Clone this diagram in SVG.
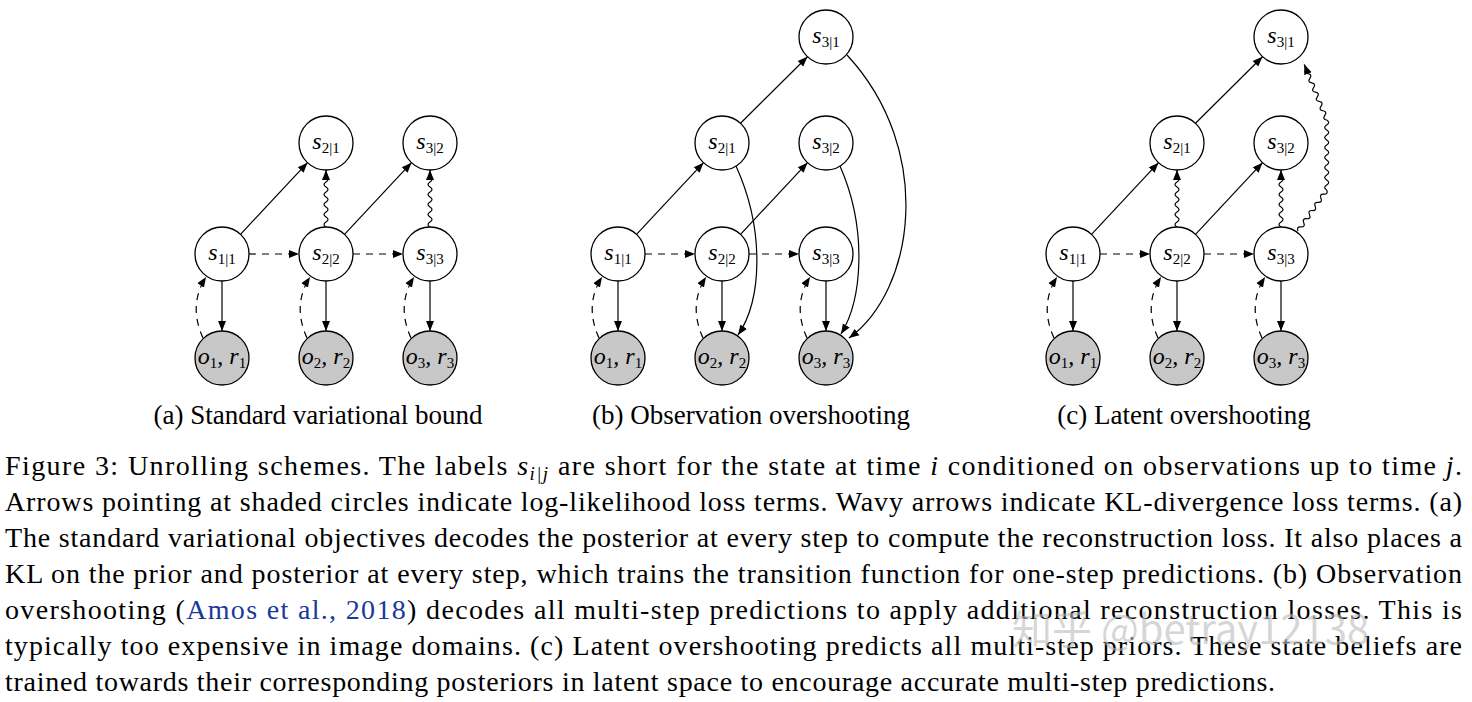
<svg xmlns="http://www.w3.org/2000/svg" width="1472" height="702" viewBox="0 0 1472 702">
<style>
.n{fill:#fff;stroke:#000;stroke-width:1.3}
.o{fill:#c8c8c8;stroke:#000;stroke-width:1.3}
.l{font-family:"Liberation Serif",serif;font-style:italic;font-size:24px;text-anchor:middle}
.sb{font-size:15px;font-style:normal}
.e{fill:none;stroke:#000;stroke-width:1.2;marker-end:url(#ah)}
.d{stroke-dasharray:7 6}
.cap{font-family:"Liberation Serif",serif;font-size:28px}
.sc{font-family:"Liberation Serif",serif;font-size:27px;text-anchor:middle}
</style>
<defs>
<marker id="ah" viewBox="0 0 10 10" refX="10" refY="5" markerWidth="10" markerHeight="10" markerUnits="userSpaceOnUse" orient="auto"><path d="M0,1 L10,5 L0,9 z"/></marker>
<g id="col">
<path class="e" d="M0,281 V331"/>
<path class="e d" d="M-19,338 Q-34,305 -16,277"/>
</g>
<path id="wv" class="e" d="M0,227 q-4,-2.5 0,-5 t0,-5 t0,-5 t0,-5 t0,-5 t0,-5 t0,-5 t0,-5 t0,-5 t0,-5 l0,-7"/>
</defs>
<rect width="1472" height="702" fill="#fff"/>
<g id="connectors">
<use href="#col" x="222"/><use href="#col" x="326"/><use href="#col" x="430"/>
<path class="e d" d="M249,254 H299"/><path class="e d" d="M353,254 H403"/>
<path class="e" d="M240.5,234.3 L307.5,162.7"/><path class="e" d="M344.5,234.3 L411.5,162.7"/>
<use href="#wv" x="326"/><use href="#wv" x="430"/>
<use href="#col" x="618"/><use href="#col" x="722"/><use href="#col" x="826"/>
<path class="e d" d="M645,254 H695"/><path class="e d" d="M749,254 H799"/>
<path class="e" d="M636.5,234.3 L703.5,162.7"/><path class="e" d="M740.5,234.3 L807.5,162.7"/>
<path class="e" d="M740.5,123.3 L807.5,56.7"/>
<path class="e" d="M736,166 C765,230 762,300 738,335"/>
<path class="e" d="M840,166 C868,230 862,300 841,334"/>
<path class="e" d="M847,55 C935,150 915,290 849,338"/>
<use href="#col" x="1073"/><use href="#col" x="1177"/><use href="#col" x="1281"/>
<path class="e d" d="M1100,254 H1150"/><path class="e d" d="M1204,254 H1254"/>
<path class="e" d="M1091.5,234.3 L1158.5,162.7"/><path class="e" d="M1195.5,234.3 L1262.5,162.7"/>
<path class="e" d="M1195.5,123.3 L1262.5,56.7"/>
<use href="#wv" x="1177"/><use href="#wv" x="1281"/>
<path fill="none" stroke="#000" stroke-width="1.2" transform="translate(1298,231) rotate(-55)" d="M0,0 q2.5,-4 5,0 t5,0 t5,0 t5,0 t5,0 t5,0 t5,0 t5,0 t5,0 t5,0"/>
<path fill="none" stroke="#000" stroke-width="1.2" transform="translate(1326.7,190) rotate(-90)" d="M0,0 q2.5,-4 5,0 t5,0 t5,0 t5,0 t5,0 t5,0 t5,0 t5,0 t5,0 t5,0 t5,0 t5,0 t5,0 t5,0"/>
<path class="e" transform="translate(1326.7,120) rotate(-112)" d="M0,0 q2.5,-4 5,0 t5,0 t5,0 t5,0 t5,0 t5,0 t5,0 t5,0 t5,0 t5,0 t5,0 l5,0"/>
</g>
<g id="a_s21"><circle class="n" cx="326" cy="143" r="27"/><text class="l" x="326" y="149">s<tspan class="sb" dy="4">2|1</tspan></text></g>
<g id="a_s32"><circle class="n" cx="430" cy="143" r="27"/><text class="l" x="430" y="149">s<tspan class="sb" dy="4">3|2</tspan></text></g>
<g id="a_s11"><circle class="n" cx="222" cy="254" r="27"/><text class="l" x="222" y="260">s<tspan class="sb" dy="4">1|1</tspan></text></g>
<g id="a_s22"><circle class="n" cx="326" cy="254" r="27"/><text class="l" x="326" y="260">s<tspan class="sb" dy="4">2|2</tspan></text></g>
<g id="a_s33"><circle class="n" cx="430" cy="254" r="27"/><text class="l" x="430" y="260">s<tspan class="sb" dy="4">3|3</tspan></text></g>
<g id="a_o1"><circle class="o" cx="222" cy="358" r="27"/><text class="l" x="222" y="364">o<tspan class="sb" dy="4">1</tspan><tspan dy="-4">, r</tspan><tspan class="sb" dy="4">1</tspan></text></g>
<g id="a_o2"><circle class="o" cx="326" cy="358" r="27"/><text class="l" x="326" y="364">o<tspan class="sb" dy="4">2</tspan><tspan dy="-4">, r</tspan><tspan class="sb" dy="4">2</tspan></text></g>
<g id="a_o3"><circle class="o" cx="430" cy="358" r="27"/><text class="l" x="430" y="364">o<tspan class="sb" dy="4">3</tspan><tspan dy="-4">, r</tspan><tspan class="sb" dy="4">3</tspan></text></g>
<g id="b_s31"><circle class="n" cx="826" cy="37" r="27"/><text class="l" x="826" y="43">s<tspan class="sb" dy="4">3|1</tspan></text></g>
<g id="b_s21"><circle class="n" cx="722" cy="143" r="27"/><text class="l" x="722" y="149">s<tspan class="sb" dy="4">2|1</tspan></text></g>
<g id="b_s32"><circle class="n" cx="826" cy="143" r="27"/><text class="l" x="826" y="149">s<tspan class="sb" dy="4">3|2</tspan></text></g>
<g id="b_s11"><circle class="n" cx="618" cy="254" r="27"/><text class="l" x="618" y="260">s<tspan class="sb" dy="4">1|1</tspan></text></g>
<g id="b_s22"><circle class="n" cx="722" cy="254" r="27"/><text class="l" x="722" y="260">s<tspan class="sb" dy="4">2|2</tspan></text></g>
<g id="b_s33"><circle class="n" cx="826" cy="254" r="27"/><text class="l" x="826" y="260">s<tspan class="sb" dy="4">3|3</tspan></text></g>
<g id="b_o1"><circle class="o" cx="618" cy="358" r="27"/><text class="l" x="618" y="364">o<tspan class="sb" dy="4">1</tspan><tspan dy="-4">, r</tspan><tspan class="sb" dy="4">1</tspan></text></g>
<g id="b_o2"><circle class="o" cx="722" cy="358" r="27"/><text class="l" x="722" y="364">o<tspan class="sb" dy="4">2</tspan><tspan dy="-4">, r</tspan><tspan class="sb" dy="4">2</tspan></text></g>
<g id="b_o3"><circle class="o" cx="826" cy="358" r="27"/><text class="l" x="826" y="364">o<tspan class="sb" dy="4">3</tspan><tspan dy="-4">, r</tspan><tspan class="sb" dy="4">3</tspan></text></g>
<g id="c_s31"><circle class="n" cx="1281" cy="37" r="27"/><text class="l" x="1281" y="43">s<tspan class="sb" dy="4">3|1</tspan></text></g>
<g id="c_s21"><circle class="n" cx="1177" cy="143" r="27"/><text class="l" x="1177" y="149">s<tspan class="sb" dy="4">2|1</tspan></text></g>
<g id="c_s32"><circle class="n" cx="1281" cy="143" r="27"/><text class="l" x="1281" y="149">s<tspan class="sb" dy="4">3|2</tspan></text></g>
<g id="c_s11"><circle class="n" cx="1073" cy="254" r="27"/><text class="l" x="1073" y="260">s<tspan class="sb" dy="4">1|1</tspan></text></g>
<g id="c_s22"><circle class="n" cx="1177" cy="254" r="27"/><text class="l" x="1177" y="260">s<tspan class="sb" dy="4">2|2</tspan></text></g>
<g id="c_s33"><circle class="n" cx="1281" cy="254" r="27"/><text class="l" x="1281" y="260">s<tspan class="sb" dy="4">3|3</tspan></text></g>
<g id="c_o1"><circle class="o" cx="1073" cy="358" r="27"/><text class="l" x="1073" y="364">o<tspan class="sb" dy="4">1</tspan><tspan dy="-4">, r</tspan><tspan class="sb" dy="4">1</tspan></text></g>
<g id="c_o2"><circle class="o" cx="1177" cy="358" r="27"/><text class="l" x="1177" y="364">o<tspan class="sb" dy="4">2</tspan><tspan dy="-4">, r</tspan><tspan class="sb" dy="4">2</tspan></text></g>
<g id="c_o3"><circle class="o" cx="1281" cy="358" r="27"/><text class="l" x="1281" y="364">o<tspan class="sb" dy="4">3</tspan><tspan dy="-4">, r</tspan><tspan class="sb" dy="4">3</tspan></text></g>
<text class="sc" x="318" y="424">(a) Standard variational bound</text>
<text class="sc" x="751" y="424">(b) Observation overshooting</text>
<text class="sc" x="1184" y="424">(c) Latent overshooting</text>
<g class="cap">
<text x="5" y="475" textLength="1457" lengthAdjust="spacing">Figure 3: Unrolling schemes. The labels <tspan font-style="italic">s</tspan><tspan font-size="19" font-style="italic" dy="5">i|j</tspan><tspan dy="-5"> are short for the state at time </tspan><tspan font-style="italic">i</tspan> conditioned on observations up to time <tspan font-style="italic">j</tspan>.</text>
<text x="5" y="511" textLength="1457" lengthAdjust="spacing">Arrows pointing at shaded circles indicate log-likelihood loss terms. Wavy arrows indicate KL-divergence loss terms. (a)</text>
<text x="5" y="547" textLength="1457" lengthAdjust="spacing">The standard variational objectives decodes the posterior at every step to compute the reconstruction loss. It also places a</text>
<text x="5" y="583" textLength="1457" lengthAdjust="spacing">KL on the prior and posterior at every step, which trains the transition function for one-step predictions. (b) Observation</text>
<text x="5" y="619" textLength="1457" lengthAdjust="spacing">overshooting (<tspan fill="#1a3a9a">Amos et al., 2018</tspan>) decodes all multi-step predictions to apply additional reconstruction losses. This is</text>
<text x="5" y="655" textLength="1457" lengthAdjust="spacing">typically too expensive in image domains. (c) Latent overshooting predicts all multi-step priors. These state beliefs are</text>
<text x="5" y="691" textLength="1270" lengthAdjust="spacing">trained towards their corresponding posteriors in latent space to encourage accurate multi-step predictions.</text>
</g>
<text x="1012" y="644" font-family="'Noto Sans CJK SC','Noto Sans',sans-serif" font-size="40" fill="#bbb" fill-opacity="0.6">知乎 @betray12138</text>
</svg>
